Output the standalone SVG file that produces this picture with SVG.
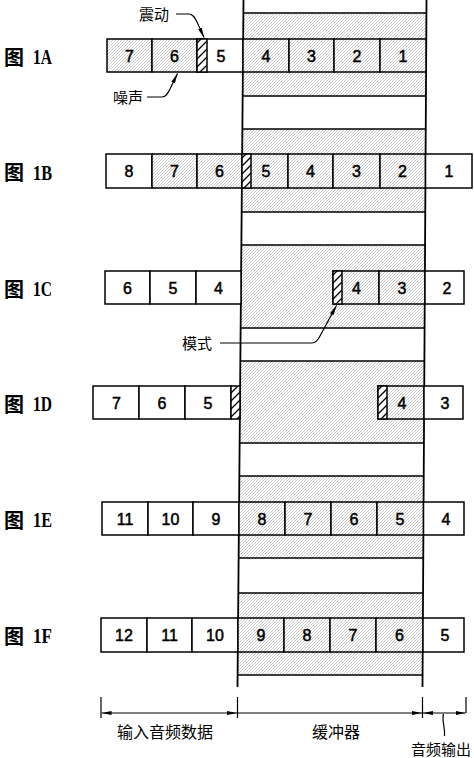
<svg xmlns="http://www.w3.org/2000/svg" width="474" height="758" viewBox="0 0 474 758">
<style>
.bg{fill:#fff}
.c{fill:#fff;stroke:#000;stroke-width:1.5}
.s{fill:url(#dots);stroke:#000;stroke-width:1.5}
.h{fill:url(#hatch);stroke:#000;stroke-width:1.5}
.band{fill:url(#dots);stroke:none}
.hl{stroke:#000;stroke-width:1.5;fill:none}
.vl{stroke:#000;stroke-width:1.8;fill:none}
.n{font-family:"Liberation Sans",Arial,sans-serif;font-size:16px;text-anchor:middle;fill:#000;stroke:#000;stroke-width:0.5}
.lbc{font-family:"Noto Sans CJK SC",sans-serif;font-size:20px;font-weight:bold;fill:#000}
.lbl{font-family:"Liberation Serif","Times New Roman",serif;font-size:21px;font-weight:bold;fill:#000}
.zh{font-family:"Noto Sans CJK SC",sans-serif;font-size:15px;fill:#000}
.zh16{font-family:"Noto Sans CJK SC",sans-serif;font-size:16px;fill:#000}
.ld{stroke:#000;stroke-width:1.2;fill:none;marker-end:url(#ah)}
.dim{stroke:#000;stroke-width:1.2;fill:none}
</style>
<defs>
<pattern id="dots" width="3" height="3" patternUnits="userSpaceOnUse">
<rect width="3" height="3" fill="#fff"/>
<path d="M0 3 L3 0 M-1 1 L1 -1 M2 4 L4 2" stroke="#a8a8a8" stroke-width="0.6"/>
</pattern>
<pattern id="hatch" width="8" height="8" patternUnits="userSpaceOnUse">
<rect width="8" height="8" fill="#fff"/>
<path d="M0 8 L8 0 M-1 1 L1 -1 M7 9 L9 7" stroke="#000" stroke-width="1.3"/>
</pattern>
<marker id="ah" viewBox="0 0 10 4" refX="10" refY="2" markerWidth="10" markerHeight="4" markerUnits="userSpaceOnUse" orient="auto-start-reverse">
<path d="M0 0 L10 2 L0 4 z" fill="#000"/>
</marker>
</defs>
<rect class="bg" width="474" height="758"/>

<g id="buffer">
<rect class="band" x="243" y="13" width="183" height="83"/>
<rect class="band" x="242" y="129" width="183.5" height="83"/>
<rect class="band" x="241" y="245" width="184" height="83"/>
<rect class="band" x="240" y="361" width="184" height="82"/>
<rect class="band" x="239" y="476" width="184.5" height="82"/>
<rect class="band" x="238" y="593" width="185" height="82"/>
<path class="hl" d="M243 13 H426 M243 96 H426 M242 129 H425.5 M242 212 H425.5 M241 245 H425 M241 328 H425 M240 361 H424 M240 443 H424 M239 476 H423.5 M239 558 H423.5 M238 593 H423 M238 675 H423"/>
<path class="vl" d="M243.5 0 L237.5 687 M426.5 0 L422.5 687"/>
</g>

<g id="row-1A">
<rect class="s" x="107" y="39" width="45" height="33"/>
<rect class="s" x="152" y="39" width="45" height="33"/>
<rect class="c" x="197" y="39" width="46" height="33"/>
<rect class="h" x="197" y="39" width="10" height="33"/>
<rect class="s" x="243" y="39" width="46" height="33"/>
<rect class="s" x="289" y="39" width="45" height="33"/>
<rect class="s" x="334" y="39" width="46" height="33"/>
<rect class="s" x="380" y="39" width="46" height="33"/>
<text class="n" x="129.5" y="61.5">7</text>
<text class="n" x="174.5" y="61.5">6</text>
<text class="n" x="221" y="61.5">5</text>
<text class="n" x="266" y="61.5">4</text>
<text class="n" x="311.5" y="61.5">3</text>
<text class="n" x="357" y="61.5">2</text>
<text class="n" x="403" y="61.5">1</text>
</g>

<g id="row-1B">
<rect class="c" x="106" y="154" width="46" height="34"/>
<rect class="s" x="152" y="154" width="45" height="34"/>
<rect class="s" x="197" y="154" width="45" height="34"/>
<rect class="s" x="242" y="154" width="46" height="34"/>
<rect class="h" x="242" y="154" width="9" height="34"/>
<rect class="s" x="288" y="154" width="45" height="34"/>
<rect class="s" x="333" y="154" width="47" height="34"/>
<rect class="s" x="380" y="154" width="45.5" height="34"/>
<rect class="c" x="425.5" y="154" width="46.5" height="34"/>
<text class="n" x="129" y="177">8</text>
<text class="n" x="174.5" y="177">7</text>
<text class="n" x="219.5" y="177">6</text>
<text class="n" x="266" y="177">5</text>
<text class="n" x="310.5" y="177">4</text>
<text class="n" x="356.5" y="177">3</text>
<text class="n" x="402.5" y="177">2</text>
<text class="n" x="449" y="177">1</text>
</g>

<g id="row-1C">
<rect class="c" x="105" y="271" width="45" height="33"/>
<rect class="c" x="150" y="271" width="46" height="33"/>
<rect class="c" x="196" y="271" width="45" height="33"/>
<rect class="s" x="333" y="271" width="46" height="33"/>
<rect class="h" x="333" y="271" width="9" height="33"/>
<rect class="s" x="379" y="271" width="46" height="33"/>
<rect class="c" x="425" y="271" width="39" height="33"/>
<text class="n" x="127.5" y="293.5">6</text>
<text class="n" x="173" y="293.5">5</text>
<text class="n" x="218.5" y="293.5">4</text>
<text class="n" x="356.5" y="293.5">4</text>
<text class="n" x="402" y="293.5">3</text>
<text class="n" x="447" y="293.5">2</text>
</g>

<g id="row-1D">
<rect class="c" x="93" y="386" width="46" height="33"/>
<rect class="c" x="139" y="386" width="46" height="33"/>
<rect class="c" x="185" y="386" width="46" height="33"/>
<rect class="h" x="231" y="386" width="9" height="33"/>
<rect class="s" x="378" y="386" width="46" height="33"/>
<rect class="h" x="378" y="386" width="9" height="33"/>
<rect class="c" x="424" y="386" width="39" height="33"/>
<text class="n" x="116.5" y="408.5">7</text>
<text class="n" x="162" y="408.5">6</text>
<text class="n" x="208" y="408.5">5</text>
<text class="n" x="402" y="408.5">4</text>
<text class="n" x="445" y="408.5">3</text>
</g>

<g id="row-1E">
<rect class="c" x="102" y="502" width="46" height="33"/>
<rect class="c" x="148" y="502" width="45" height="33"/>
<rect class="c" x="193" y="502" width="46" height="33"/>
<rect class="s" x="239" y="502" width="46" height="33"/>
<rect class="s" x="285" y="502" width="46" height="33"/>
<rect class="s" x="331" y="502" width="46" height="33"/>
<rect class="s" x="377" y="502" width="46.5" height="33"/>
<rect class="c" x="423.5" y="502" width="40.5" height="33"/>
<text class="n" x="125" y="524.5">11</text>
<text class="n" x="170.5" y="524.5">10</text>
<text class="n" x="216" y="524.5">9</text>
<text class="n" x="262" y="524.5">8</text>
<text class="n" x="308" y="524.5">7</text>
<text class="n" x="354" y="524.5">6</text>
<text class="n" x="400" y="524.5">5</text>
<text class="n" x="446" y="524.5">4</text>
</g>

<g id="row-1F">
<rect class="c" x="101" y="618" width="46" height="34"/>
<rect class="c" x="147" y="618" width="45" height="34"/>
<rect class="c" x="192" y="618" width="46" height="34"/>
<rect class="s" x="238" y="618" width="46" height="34"/>
<rect class="s" x="284" y="618" width="46" height="34"/>
<rect class="s" x="330" y="618" width="46" height="34"/>
<rect class="s" x="376" y="618" width="47" height="34"/>
<rect class="c" x="423" y="618" width="41" height="34"/>
<text class="n" x="124" y="641">12</text>
<text class="n" x="169.5" y="641">11</text>
<text class="n" x="215" y="641">10</text>
<text class="n" x="261" y="641">9</text>
<text class="n" x="307" y="641">8</text>
<text class="n" x="353" y="641">7</text>
<text class="n" x="399.5" y="641">6</text>
<text class="n" x="445" y="641">5</text>
</g>

<g id="labels">
<text class="lbc" x="4" y="64.5">图</text><text class="lbl" x="33" y="64" textLength="19" lengthAdjust="spacingAndGlyphs">1A</text>
<text class="lbc" x="4" y="180">图</text><text class="lbl" x="33" y="179.5" textLength="19" lengthAdjust="spacingAndGlyphs">1B</text>
<text class="lbc" x="4" y="296.5">图</text><text class="lbl" x="33" y="296" textLength="19" lengthAdjust="spacingAndGlyphs">1C</text>
<text class="lbc" x="4" y="411.5">图</text><text class="lbl" x="33" y="411" textLength="19" lengthAdjust="spacingAndGlyphs">1D</text>
<text class="lbc" x="4" y="527.5">图</text><text class="lbl" x="33" y="527" textLength="19" lengthAdjust="spacingAndGlyphs">1E</text>
<text class="lbc" x="4" y="643.5">图</text><text class="lbl" x="33" y="643" textLength="19" lengthAdjust="spacingAndGlyphs">1F</text>
<text class="zh" x="139" y="19.5">震动</text>
<text class="zh" x="113" y="102.5">噪声</text>
<text class="zh" x="182" y="348.5">模式</text>
<text class="zh16" x="117" y="738">输入音频数据</text>
<text class="zh16" x="312" y="738">缓冲器</text>
<text class="zh" x="411" y="754.5">音频输出</text>
</g>

<g id="connectors">
<path class="ld" d="M176 14 L189 14 C193 14 195 18 197 22 L204 37.5"/>
<path class="ld" d="M147 97 L162 97 C166 97 168 93 170 89 L177.5 73.5"/>
<path class="ld" d="M220 343 L312 343 C316 343 318 340 320 336 L336.5 305.5"/>
<path class="dim" d="M101 697 V718 M237.5 697 V718 M422.5 697 V718 M466 697 V713"/>
<path class="dim" d="M101.5 713 L237 713" marker-start="url(#ah)" marker-end="url(#ah)"/>
<path class="dim" d="M237.5 713 L422 713" marker-end="url(#ah)"/>
<path class="dim" d="M423 713 L465.5 713" marker-start="url(#ah)" marker-end="url(#ah)"/>
<path class="dim" d="M443.5 714 C441.5 722 445.5 727 444.5 736"/>
</g>
</svg>
